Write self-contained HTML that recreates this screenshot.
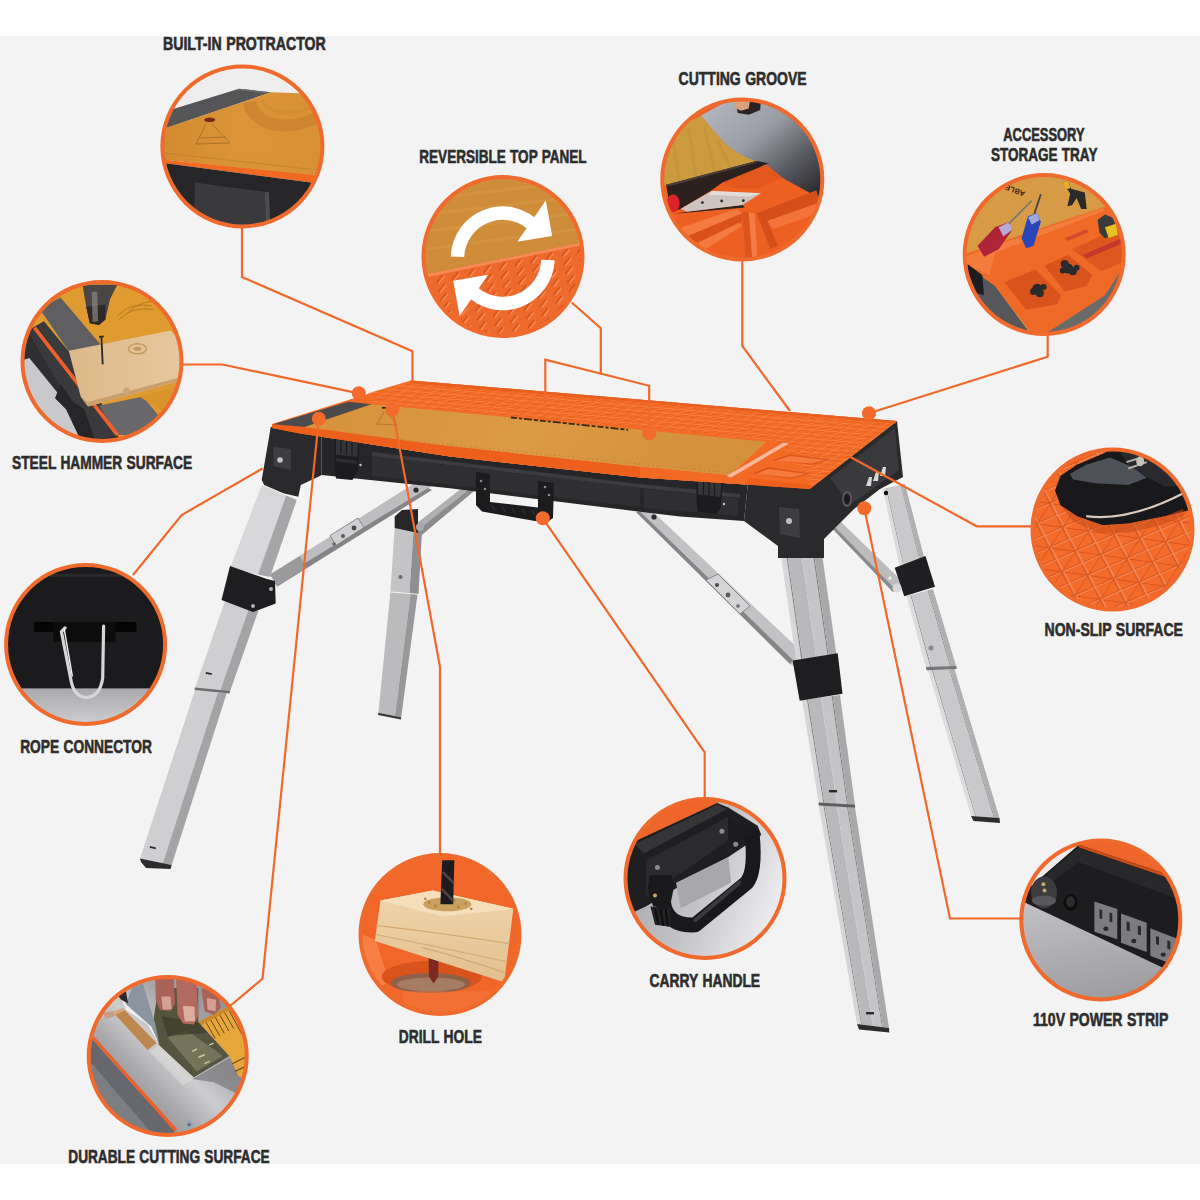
<!DOCTYPE html>
<html lang="en">
<head>
<meta charset="utf-8">
<title>Workbench features</title>
<style>
html,body{margin:0;padding:0;background:#fff;}
body{width:1200px;height:1200px;overflow:hidden;}
svg{display:block;}
.lbl{font-family:"Liberation Sans",sans-serif;font-weight:700;font-size:18.4px;fill:#2d2d2d;stroke:#2d2d2d;stroke-width:0.6;word-spacing:0.04em;}
.ln{fill:none;stroke:#f0692b;stroke-width:2.2;stroke-linejoin:miter;}
.dot{fill:#f26a2c;}
.ring{fill:none;stroke:#ef6a2c;stroke-width:4;}
</style>
</head>
<body>
<svg width="1200" height="1200" viewBox="0 0 1200 1200">
<defs>

<linearGradient id="alu" x1="0" y1="0" x2="1" y2="0">
<stop offset="0" stop-color="#d9d9db"/><stop offset="0.12" stop-color="#d2d2d4"/><stop offset="0.14" stop-color="#7e7e80"/><stop offset="0.17" stop-color="#b6b6b8"/><stop offset="0.75" stop-color="#c6c6c8"/><stop offset="0.8" stop-color="#808082"/><stop offset="0.84" stop-color="#adadaf"/><stop offset="1" stop-color="#a4a4a6"/>
</linearGradient>
<linearGradient id="alu2" x1="0" y1="0" x2="1" y2="0">
<stop offset="0" stop-color="#c6c6c8"/><stop offset="0.7" stop-color="#bcbcbe"/><stop offset="0.72" stop-color="#98989a"/><stop offset="1" stop-color="#8e8e90"/>
</linearGradient>
<linearGradient id="woodg" x1="0" y1="0" x2="1" y2="0.1">
<stop offset="0" stop-color="#d6923a"/><stop offset="0.5" stop-color="#db9a44"/><stop offset="1" stop-color="#d4903a"/>
</linearGradient>

<clipPath id="k1"><circle cx="242.4" cy="146.4" r="80"/></clipPath>
<linearGradient id="c1wood" x1="0" y1="0" x2="1" y2="0"><stop offset="0" stop-color="#d38a30"/><stop offset="0.5" stop-color="#db9538"/><stop offset="1" stop-color="#d89034"/></linearGradient>

<clipPath id="k2"><circle cx="503" cy="256.5" r="79.5"/></clipPath>
<pattern id="tread" width="16" height="9" patternUnits="userSpaceOnUse" patternTransform="rotate(-12)">
<rect width="16" height="9" fill="#ee6a2c"/>
<path d="M1 7 L7 2" stroke="#d9521a" stroke-width="2.2" stroke-linecap="round"/>
<path d="M2.5 8 L8.5 3" stroke="#f9905c" stroke-width="1.6" stroke-linecap="round"/>
</pattern>

<clipPath id="k3"><circle cx="742.3" cy="179.4" r="80"/></clipPath>
<linearGradient id="c3sheet" x1="0.1" y1="0" x2="1" y2="0.9"><stop offset="0" stop-color="#b4b8c2"/><stop offset="0.4" stop-color="#9a9da6"/><stop offset="0.7" stop-color="#5a5b62"/><stop offset="1" stop-color="#252528"/></linearGradient>
<linearGradient id="c3or" x1="0" y1="0" x2="0" y2="1"><stop offset="0" stop-color="#e2571d"/><stop offset="1" stop-color="#f4702f"/></linearGradient>

<clipPath id="k4"><circle cx="1044.2" cy="254.5" r="79.5"/></clipPath>

<clipPath id="k5"><circle cx="102" cy="361.4" r="79.5"/></clipPath>
<clipPath id="k6"><circle cx="85.6" cy="644.4" r="79.5"/></clipPath>
<clipPath id="k7"><circle cx="1112.5" cy="529.5" r="80"/></clipPath>
<linearGradient id="c6fl" x1="0" y1="0" x2="0" y2="1"><stop offset="0" stop-color="#a9a9ab"/><stop offset="1" stop-color="#dcdcde"/></linearGradient>
<linearGradient id="lumber" x1="0" y1="0" x2="1" y2="0"><stop offset="0" stop-color="#dcb98a"/><stop offset="1" stop-color="#e6c79c"/></linearGradient>
<pattern id="tri" width="26" height="22" patternUnits="userSpaceOnUse" patternTransform="rotate(8) skewX(-25)">
<rect width="26" height="22" fill="#f26b2b"/>
<path d="M0 0 L26 22 M26 0 L0 22 M0 0 L26 0 M0 0 L0 22" stroke="#d9531c" stroke-width="1.6" fill="none"/>
<path d="M1.5 0 L27.5 22 M27.5 0 L1.5 22" stroke="#f88d5a" stroke-width="1.2" fill="none"/>
</pattern>

<clipPath id="k8"><circle cx="1100.8" cy="920" r="79.5"/></clipPath>
<clipPath id="k9"><circle cx="705" cy="878.5" r="79.5"/></clipPath>
<clipPath id="k10"><circle cx="440" cy="934.5" r="79.5"/></clipPath>
<clipPath id="k11"><circle cx="167.7" cy="1056" r="79"/></clipPath>
<linearGradient id="c8fl" x1="0" y1="0" x2="0.3" y2="1"><stop offset="0" stop-color="#c4c4c8"/><stop offset="1" stop-color="#98989c"/></linearGradient>
<linearGradient id="c9bg" x1="0" y1="0" x2="1" y2="0.4"><stop offset="0" stop-color="#9e9ea2"/><stop offset="0.6" stop-color="#c4c4c8"/><stop offset="1" stop-color="#eaeaec"/></linearGradient>
<linearGradient id="c10w" x1="0" y1="0" x2="0" y2="1"><stop offset="0" stop-color="#f0d6ac"/><stop offset="1" stop-color="#e2bf8e"/></linearGradient>
<linearGradient id="c11st" x1="0.1" y1="0.9" x2="0.9" y2="0.1"><stop offset="0" stop-color="#8a8a8c"/><stop offset="0.3" stop-color="#a4a4a6"/><stop offset="0.5" stop-color="#cdcdcf"/><stop offset="0.7" stop-color="#a8a8aa"/><stop offset="1" stop-color="#8c8c8e"/></linearGradient>

<pattern id="grip" width="13" height="7" patternUnits="userSpaceOnUse" patternTransform="matrix(1 0.085 -1.1 0.55 0 0)">
<rect width="13" height="7" fill="#f26a24"/>
<path d="M0 0.6 H13 M0.6 0 V7" stroke="#f88f58" stroke-width="1.1"/>
<path d="M1 6.5 L12 1" stroke="#e2591c" stroke-width="1"/>
</pattern>
<clipPath id="ktop"><polygon points="272,424 350,399.5 411,380.5 897,421 810,489 746,484.5 640,477.5 450,456.5 333,438.5 300,433.5 272,428"/></clipPath>
<!--DEFS-->
</defs>
<rect x="0" y="0" width="1200" height="1200" fill="#ffffff"/>
<rect x="0" y="36" width="1200" height="1128" fill="#f3f3f3"/>

<g id="bench">
<!-- back-left leg -->
<polygon points="394.7,527 413.5,531 409.5,593 390.4,591.4" fill="#c4c4c6"/>
<polygon points="413.5,531 421.8,535 418.5,594 409.5,593" fill="#8f8f91"/>
<polygon points="390.4,592.5 410.5,594 395,716 378.4,712.8" fill="#bbbbbd"/>
<polygon points="410.5,594 417.5,594.7 401.2,717.2 395,716" fill="#98989a"/>
<polygon points="378.4,712.8 401.2,717.2 400.8,719.5 378,715" fill="#3a3a3c"/>
<circle cx="400.5" cy="577" r="2" fill="#6c6c6e"/>
<!-- left braces -->
<polygon points="412,527 464,486.5 474,491 418,538" fill="#b0b0b2"/>
<polygon points="414,533 470,489 474,491 418,538" fill="#8c8c8e"/>
<polygon points="270,574.5 413.3,484 432,486 277.3,586" fill="#bdbdbf"/>
<polygon points="274,582 428,488 432,490 277.3,586.5" fill="#858587"/>
<polygon points="270,574.5 300,556 306,568 277.3,586" fill="#9a9a9c"/>
<polygon points="330,535.5 358,518 364,527.5 336,545.5" fill="#cfcfd1" stroke="#77777a" stroke-width="0.8"/>
<circle cx="343" cy="536" r="2" fill="#5a5a5c"/><circle cx="354" cy="528" r="2.4" fill="#4a4a4c"/><circle cx="334" cy="544" r="1.8" fill="#6a6a6c"/>
<circle cx="416" cy="490" r="2.6" fill="#2a2a2c"/>
<polygon points="394.7,516.6 402,510 418,509 418,533 394.7,528" fill="#262628"/>
<circle cx="420" cy="527" r="4" fill="#a8a8aa"/>
<!-- back-right leg -->
<polygon points="882.8,489.0 886.1,488.2 903.1,564.6 899.4,566.0" fill="#dcdcde"/>
<polygon points="886.1,488.2 886.8,488.1 903.8,564.4 903.1,564.6" fill="#8a8a8c"/>
<polygon points="886.8,488.1 900.6,485.0 919.1,558.8 903.8,564.4" fill="#c9c9cb"/>
<polygon points="900.6,485.0 901.2,484.9 919.8,558.5 919.1,558.8" fill="#8a8a8c"/>
<polygon points="901.2,484.9 905.0,484.0 924.0,557.0 919.8,558.5" fill="#b0b0b2"/>
<polygon points="906.5,596.0 910.5,595.0 930.6,667.9 926.0,668.0" fill="#dcdcde"/>
<polygon points="910.5,595.0 911.3,594.7 931.5,667.8 930.6,667.9" fill="#8a8a8c"/>
<polygon points="911.3,594.7 927.7,590.4 950.3,667.2 931.5,667.8" fill="#c9c9cb"/>
<polygon points="927.7,590.4 928.5,590.2 951.2,667.2 950.3,667.2" fill="#8a8a8c"/>
<polygon points="928.5,590.2 933.0,589.0 956.4,667.0 951.2,667.2" fill="#b0b0b2"/>
<polygon points="928.0,670.0 932.0,669.9 975.3,816.3 971.0,816.0" fill="#dcdcde"/>
<polygon points="932.0,669.9 932.8,669.8 976.1,816.4 975.3,816.3" fill="#8a8a8c"/>
<polygon points="932.8,669.8 949.2,669.2 993.8,817.6 976.1,816.4" fill="#c9c9cb"/>
<polygon points="949.2,669.2 950.0,669.2 994.7,817.7 993.8,817.6" fill="#8a8a8c"/>
<polygon points="950.0,669.2 954.5,669.0 999.5,818.0 994.7,817.7" fill="#b0b0b2"/>
<polygon points="971,816 999.5,818 1000,823 973.5,821" fill="#2c2c2e"/>
<polygon points="926,667 956.4,666 956.8,669 926.4,670.3" fill="#77777a"/>
<circle cx="931" cy="648" r="2.5" fill="#8a8a8c"/>
<!-- right back brace -->
<polygon points="826,522 838,519 903,582 893,592" fill="#bcbcbe"/>
<polygon points="826,522 829,521 895,589 893,592" fill="#8a8a8c"/>
<circle cx="890" cy="578" r="1.6" fill="#f4f4f4"/>
<polygon points="894.7,567.8 925.5,556 935,586.8 904.2,596.3" fill="#1f1f21"/>
<circle cx="897" cy="588" r="4.5" fill="#d8d8da"/>
<!-- front-right brace -->
<polygon points="636,512 650,509 802,652 798,668 790,664" fill="#c2c2c4"/>
<polygon points="636,512 640,511.5 793,660 790,664" fill="#858587"/>
<polygon points="706,580 718,574 750,606 740,614" fill="#d4d4d6" stroke="#77777a" stroke-width="0.8"/>
<circle cx="717" cy="585" r="2" fill="#4a4a4c"/><circle cx="728" cy="595" r="2.4" fill="#5a5a5c"/><circle cx="738" cy="606" r="1.8" fill="#6a6a6c"/>
<circle cx="654" cy="517" r="2.6" fill="#2a2a2c"/>
</g>
<g id="bench-front">
<!-- front-left leg -->
<polygon points="261.7,485.0 286.2,495.5 258.0,574.4 230.0,568.3" fill="#d8d8da"/>
<polygon points="286.2,495.5 296.7,500.0 270.0,577.0 258.0,574.4" fill="#a6a6a8"/>
<polygon points="225.0,601.0 249.0,608.2 220.2,690.6 195.0,688.3" fill="#cfcfd1"/>
<polygon points="249.0,608.2 258.3,611.0 230.0,691.5 220.2,690.6" fill="#a4a4a6"/>
<polygon points="195.0,690.0 217.8,692.4 162.8,863.2 140.0,858.5" fill="#cfcfd1"/>
<polygon points="217.8,692.4 226.7,693.3 171.7,865.0 162.8,863.2" fill="#a4a4a6"/>
<polygon points="140,858.5 171.7,865 170.5,869 146,868 141,862" fill="#2c2c2e"/>
<polygon points="195,687.5 230,691 229.5,693.5 194.5,690" fill="#6e6e71"/>
<polygon points="206,672 212,673.3 211.6,675 205.6,673.7" fill="#2a2a2c"/>
<polygon points="150,846 156,847.5 155.6,849.2 149.6,847.7" fill="#2a2a2c"/>
<polygon points="230,566 267,579 275,581 275.7,603.5 253,612 221.5,600" fill="#1e1e20"/>
<circle cx="271" cy="589" r="2" fill="#b0b0b2"/><circle cx="253" cy="606" r="2" fill="#b0b0b2"/>
<!-- front-right leg -->
<polygon points="780.7,554.0 786.1,554.0 801.3,659.4 796.0,660.0" fill="#d6d6d8"/>
<polygon points="786.1,554.0 787.3,554.0 802.5,659.2 801.3,659.4" fill="#858587"/>
<polygon points="787.3,554.0 801.4,554.0 816.2,657.5 802.5,659.2" fill="#b9b9bb"/>
<polygon points="801.4,554.0 812.9,554.0 827.6,656.1 816.2,657.5" fill="#c5c5c7"/>
<polygon points="812.9,554.0 814.2,554.0 828.8,656.0 827.6,656.1" fill="#828284"/>
<polygon points="814.2,554.0 822.0,554.0 836.5,655.0 828.8,656.0" fill="#a9a9ab"/>
<polygon points="802.0,700.0 806.9,699.4 823.4,803.3 818.7,803.0" fill="#d6d6d8"/>
<polygon points="806.9,699.4 808.1,699.2 824.5,803.4 823.4,803.3" fill="#858587"/>
<polygon points="808.1,699.2 821.0,697.5 836.9,804.1 824.5,803.4" fill="#b9b9bb"/>
<polygon points="821.0,697.5 831.6,696.1 847.0,804.8 836.9,804.1" fill="#c5c5c7"/>
<polygon points="831.6,696.1 832.8,696.0 848.1,804.9 847.0,804.8" fill="#828284"/>
<polygon points="832.8,696.0 840.0,695.0 855.0,805.3 848.1,804.9" fill="#a9a9ab"/>
<polygon points="818.7,805.3 823.4,805.6 861.2,1024.5 857.0,1024.0" fill="#d6d6d8"/>
<polygon points="823.4,805.6 824.5,805.7 862.1,1024.6 861.2,1024.5" fill="#858587"/>
<polygon points="824.5,805.7 836.9,806.5 873.0,1026.0 862.1,1024.6" fill="#b9b9bb"/>
<polygon points="836.9,806.5 847.0,807.1 882.0,1027.1 873.0,1026.0" fill="#c5c5c7"/>
<polygon points="847.0,807.1 848.1,807.2 882.9,1027.2 882.0,1027.1" fill="#828284"/>
<polygon points="848.1,807.2 855.0,807.6 889.0,1028.0 882.9,1027.2" fill="#a9a9ab"/>
<polygon points="857,1024 889,1028 889.3,1032.5 859,1029.5" fill="#2c2c2e"/>
<polygon points="818.5,802.5 855,804.8 855.2,807.8 818.8,805.6" fill="#5e5e60"/>
<rect x="829" y="790" width="8" height="2.4" fill="#2a2a2c"/>
<rect x="866" y="1012" width="8" height="2.4" fill="#2a2a2c"/>
<polygon points="792.6,660.4 837.7,653.3 842.5,693.7 799.7,700.8" fill="#1e1e20"/>
<!-- body: right side face -->
<polygon points="810,488 897,421 903,477 880,489 854,509 824,539 824,558 778,558 778,546 744,521 748,483" fill="#2a2a2c"/>
<polygon points="830,478 895,428 899,470 850,505" fill="#3a3a3c"/>
<ellipse cx="847" cy="499" rx="5" ry="8" fill="#555557"/>
<ellipse cx="847" cy="499" rx="3" ry="5.5" fill="#1a1a1c"/>
<polygon points="779,507 799,509 800,538 780,534" fill="#3d3d3f"/>
<circle cx="789" cy="521" r="3" fill="#bdbdbf"/>
<!-- body: front face -->
<polygon points="272,427 300,433.5 333,438.5 450,456.5 640,477.5 746,484.5 748,483 744,521 680,516.5 640,511.7 450,488.3 321.7,475 321.7,436" fill="#262628"/>
<polygon points="372,452 640,484 740,494 740,498 640,488 372,456" fill="#3c3c3e"/>
<polygon points="372,456 640,488 640,507 452,485 372,476" fill="#2f2f31"/>
<polygon points="644,489 738,498 738,516 644,508" fill="#2f2f31"/>
<!-- left corner block -->
<polygon points="270.8,426.7 321.7,435 321.7,475 318.3,476.7 300.8,485 298.3,496.7 283.3,493.3 264.2,485 261.7,480" fill="#2a2a2c"/>
<polygon points="273.3,446.7 290.8,449 290.8,470 273.3,466" fill="#3d3d3f"/>
<circle cx="280" cy="460" r="2.8" fill="#c4c4c6"/>
<!-- latches -->
<polygon points="334.5,436.5 359.3,439 357.8,470 352.5,480 336,478.5 334.5,466" fill="#1c1c1e"/>
<polygon points="336,439 358,441.5 357,457 336,454.5" fill="#353537"/>
<path d="M341 440 L341 454 M346.5 440.6 L346.5 454.8 M352 441.2 L352 455.6" stroke="#1a1a1c" stroke-width="1.2"/>
<polygon points="336,458 357,460.5 356.5,464 336,461.5" fill="#2c2c2e"/>
<circle cx="360.5" cy="465" r="1.2" fill="#c8c8ca"/>
<polygon points="696.5,477.5 723,480.5 720.5,509 716,514 698,512 696.5,502" fill="#1c1c1e"/>
<polygon points="698,480 721.5,482.8 720,497 698,494.5" fill="#353537"/>
<path d="M703.5 481 L703.5 495 M709 481.8 L709 495.8 M714.5 482.4 L714.5 496.4" stroke="#1a1a1c" stroke-width="1.2"/>
<circle cx="724" cy="504" r="1.2" fill="#c8c8ca"/>
<!-- handle -->
<path d="M476 472 L490 474 L490 502 L538 507.5 L538 481 L554 483 L553 518 L548 521.5 L535 521 L482 511.5 L476 505 Z" fill="#1c1c1e"/>
<path d="M492 505.5 l3 5 M502 506.8 l3 5 M512 508 l3 5 M522 509.2 l3 5 M532 510.4 l3 5" stroke="#3a3a3c" stroke-width="1"/>
<circle cx="481" cy="481" r="1.3" fill="#8a8a8c"/><circle cx="485" cy="489" r="1.3" fill="#8a8a8c"/><circle cx="545" cy="487" r="1.3" fill="#8a8a8c"/><circle cx="549" cy="495" r="1.3" fill="#8a8a8c"/>
<!-- top orange -->
<polygon points="272,424 350,399.5 411,380.5 897,421 810,489 746,484.5 640,477.5 450,456.5 333,438.5 300,433.5 272,428" fill="#f26a24"/>
<polygon points="368,393 411,380.5 897,421 812,487 790,452 770,440 372,403" fill="url(#grip)" opacity="0.6"/>
<polygon points="411,380.5 897,421 895,423.5 409,383" fill="#e85f1e"/>
<polygon points="272,424 305,427.5 440,445 640,466.7 730,475.5 748,478 810,485 810,489 746,484.5 640,477.5 450,456.5 333,438.5 300,433.5 272,428" fill="#ef5f1c"/>
<!-- steel plate -->
<polygon points="273.3,424.2 348.3,401.7 371.7,404.2 305,427" fill="#4b4b4d"/>
<!-- wood -->
<polygon points="371.7,404.2 766.7,441.7 730,475.5 640,466.7 440,445 305,427" fill="url(#woodg)"/>
<!-- ruler strip + tray recess -->
<polygon points="730,475.5 766.7,441.7 790,444 748,479 746,484.5 640,477.5 640,466.7" fill="#f26a24"/>
<polygon points="783,442.8 789,443.6 731,477.4 726.5,476" fill="#f9b7a0"/>
<polygon points="772,460.4 789.5,454 830.7,459.3 813.3,464.8" fill="#dd561b"/>
<polygon points="775,461 790,456 826,460 812,463.6" fill="#f57a3c"/>
<polygon points="752.7,473.4 767.8,467 811.2,473.4 791.7,478.8" fill="#dd561b"/>
<polygon points="756,474 768.5,469 806,474 791,477.4" fill="#f57a3c"/>
<path d="M511 417.5 L628 429.8" stroke="#3a2814" stroke-width="1.8" stroke-dasharray="6 2 3 2 8 2 4 2"/>
<path d="M330 432.5 L640 464 L728 472.5" stroke="#b87a2e" stroke-width="0.9" stroke-dasharray="1.2 3.5" fill="none"/>
<path d="M384 412 l-6 11 M386 412 l9 10 M376 424 l22 1" stroke="#9a6a28" stroke-width="0.6" fill="none"/>
<rect x="382" y="407" width="4" height="1.6" fill="#2a1a10"/>
<!-- side logo -->
<g fill="#d8d8da"><polygon points="866,486 869,477 872,477 871,486"/><polygon points="873,481 876,472 879,472 878,481"/><polygon points="880,476 883,467 886,467 885,476"/></g>
<circle cx="886" cy="493" r="2.2" fill="#0e0e0f"/>
</g>
<!--BENCH-->

<g id="lines">
<path class="ln" d="M242 226 L242 277 L412.5 351.3 L412.5 384"/>
<path class="ln" d="M182 364.5 L222.5 364.5 L358.8 393.3"/>
<path class="ln" d="M318.8 418.8 L262.5 978.8 L230 1006"/>
<path class="ln" d="M392.5 409.5 L440 667 L440 856"/>
<path class="ln" d="M262.5 468.5 L181.7 515 L133 575"/>
<path class="ln" d="M571.7 302.5 L600.8 328.3 L600.8 374.2"/>
<path class="ln" d="M545.3 403 L545.3 359.7 L649.2 385.8 L649.2 433.3"/>
<path class="ln" d="M742.3 258 L742.3 346 L790 411"/>
<path class="ln" d="M1047.7 333 L1047.7 356.7 L869 413.3"/>
<path class="ln" d="M1032 526.3 L976.7 526.3 L850 456.7"/>
<path class="ln" d="M864.3 508.3 L950 918.5 L1020 918.5"/>
<path class="ln" d="M542.8 518.3 L704.7 752.3 L704.7 799"/>
<circle class="dot" cx="358.8" cy="393.3" r="7"/>
<circle class="dot" cx="318.8" cy="418.8" r="7"/>
<circle class="dot" cx="392.5" cy="409.5" r="7"/>
<circle class="dot" cx="649.2" cy="433.3" r="7"/>
<circle class="dot" cx="869" cy="413.3" r="7"/>
<circle class="dot" cx="864.3" cy="508.3" r="7"/>
<circle class="dot" cx="542.8" cy="518.3" r="7"/>
</g>
<!--LINES-->

<g id="circles">
<!--C1 protractor-->
<g id="c1"><g clip-path="url(#k1)">
<rect x="160" y="64" width="166" height="166" fill="#eeeeee"/>
<polygon points="160,113 239,88.7 271,92.3 165,128.5 160,130" fill="#555557"/>
<polygon points="239,88.7 271,92.3 268,93.6 238,90" fill="#6b6b6d"/>
<polygon points="271,92.3 299.5,93.3 326,97.5 326,178 169.3,160.2 160,159.5 160,130" fill="url(#c1wood)"/>
<path d="M243 103 Q246 122 270 130 Q292 135 318 124 L326 120 L326 107 Q300 122 278 119 Q258 115 256 101 Z" fill="#c9822f" opacity="0.75"/>
<path d="M262 100 Q268 112 286 113 Q305 112 318 103" fill="none" stroke="#cf8a33" stroke-width="3" opacity="0.6"/>
<ellipse cx="209.7" cy="119.8" rx="5.5" ry="2.3" fill="#7a2a18"/>
<path d="M206 124 L196 144 M212 124 L230 143 M196 144 L230 143 M200 138 L226 137" stroke="#8a5a22" stroke-width="0.7" fill="none" opacity="0.8"/>
<path d="M165 153 L326 171" stroke="#b87a2c" stroke-width="0.8" opacity="0.7"/>
<polygon points="160,159 169.3,160.2 310.5,174.8 326,176.5 326,184.5 308.7,182.2 169.3,163.8 160,163" fill="#f26a21"/>
<polygon points="160,163 169.3,163.8 308.7,182.2 326,184.5 326,232 160,232" fill="#262628"/>
<polygon points="195,182.5 264.7,191.8 266.5,232 193.2,232" fill="#3a3a3c"/>
<polygon points="264.7,191.8 269,192.3 270.5,232 266.5,232" fill="#4c4c4e"/>
<polygon points="160,165 168,166 172,232 160,232" fill="#161618"/>
</g><circle class="ring" cx="242.4" cy="146.4" r="80"/></g>
<!--C2 reversible-->
<g id="c2"><g clip-path="url(#k2)">
<rect x="420" y="174" width="166" height="166" fill="#cf8d3a"/>
<path d="M420 200 L586 180 M420 215 L586 196 M420 232 L586 212 M420 250 L586 228" stroke="#d89a48" stroke-width="3" opacity="0.5"/>
<polygon points="420,275.5 586,241.5 586,340 420,340" fill="url(#tread)"/>
<polygon points="420,275.5 586,241.5 586,244.5 420,278.5" fill="#f58a55"/>
<path d="M457.5 256.7 A45.2 45.2 0 0 1 536.3 228.1" fill="none" stroke="#fff" stroke-width="13.5"/>
<path d="M547.9 259.9 A45.2 45.2 0 0 1 469.1 288.5" fill="none" stroke="#fff" stroke-width="13.5"/>
<polygon points="545.8,200.6 552.2,235.9 517.3,241.8" fill="#fff"/>
<polygon points="459.6,316.0 453.2,280.7 488.1,274.8" fill="#fff"/>
</g><circle class="ring" cx="503" cy="256.5" r="79.5"/></g>
<!--C3 groove-->
<g id="c3"><g clip-path="url(#k3)">
<rect x="660" y="97" width="166" height="166" fill="#ee6022"/>
<path d="M700.9 115.4 L736.3 96.2 L827.3 96.2 L827.3 201.0 L816.5 196.4 L782.6 177.9 L767.2 165.5 L756.4 161.7 Q736.3 154.8 724.0 142.4 Q711.7 128.5 700.9 115.4 Z" fill="url(#c3sheet)"/>
<path d="M659.3 188.7 L659.3 136.3 L700.9 115.4 Q711.7 128.5 724.0 142.4 Q736.3 154.8 756.4 161.2 L666.2 185.3 Z" fill="#cc9b40"/>
<path d="M673.1 140.9 L679.3 181.0 M688.5 128.5 L696.3 176.3 M704.0 125.5 L714.8 171.7 M717.8 140.9 L730.2 167.1" stroke="#c08e36" stroke-width="2.5" fill="none" opacity="0.6"/>
<polygon points="734.8,99.3 761.0,99.3 760.2,110.0 748.7,114.7 737.9,113.1" fill="#2a2224"/>
<polygon points="734.0,99.3 750.2,99.3 748.7,108.5 741.0,110.8 734.8,107.7" fill="#d9a27e"/>
<polygon points="677.8,228.8 736.3,208.7 742.5,213.3 687.0,236.5" fill="#f47a40"/>
<polygon points="694.7,244.2 736.3,221.1 742.5,225.7 704.0,250.3" fill="#f47a40"/>
<polygon points="687.0,236.5 742.5,213.3 742.5,221.1 694.7,244.2" fill="#d9501a"/>
<polygon points="742.5,211.8 754.8,213.3 757.9,264.2 745.6,264.2" fill="#dc541c"/>
<polygon points="748.7,212.6 754.8,213.3 757.9,264.2 752.5,264.2" fill="#f47c44"/>
<polygon points="756.4,213.3 816.5,190.2 819.6,202.6 767.2,221.1 778.0,245.7 770.3,248.8" fill="#d64e19"/>
<polygon points="767.2,221.1 819.6,202.6 819.6,213.3 773.3,228.8" fill="#f37338"/>
<polygon points="722.5,182.5 757.9,167.9 767.2,165.5 782.6,177.9 757.9,188.7 736.3,188.7" fill="#e4581d"/>
<polygon points="666.2,184.8 756.4,160.9 768.7,163.2 757.9,167.9 722.5,182.5 711.7,190.2 680.8,208.7 673.1,211.8 668.5,197.9" fill="#2c211f"/>
<polygon points="666.2,184.8 756.4,160.9 757.9,162.2 667.0,186.8" fill="#4a3f3c"/>
<polygon points="687.0,211.8 742.5,204.9 744.8,207.5 674.7,213.7" fill="#2c211f"/>
<polygon points="680.8,208.7 711.7,191.0 761.0,193.3 742.5,204.9 687.0,211.8" fill="#cfc3c0"/>
<polygon points="711.7,191.0 761.0,193.3 748.7,196.4 708.6,194.8" fill="#e4dcda"/>
<ellipse cx="673.1" cy="203.3" rx="6.5" ry="9" fill="#d8242a"/>
<circle cx="702.4" cy="202.6" r="1.4" fill="#2a2a2a"/><circle cx="721.7" cy="201.0" r="1.4" fill="#2a2a2a"/><circle cx="743.3" cy="200.7" r="1.4" fill="#2a2a2a"/>
</g><circle class="ring" cx="742.3" cy="179.4" r="80"/></g>
<!--C4 tray-->
<g id="c4"><g clip-path="url(#k4)">
<rect x="962" y="172" width="166" height="166" fill="#d79a45"/>
<polygon points="962.0,254.8 1103.2,207.2 1127.0,201.7 1127.0,275.0 1116.0,293.3 1105.0,333.7 1031.7,333.7 995.0,286.0 965.7,264.0" fill="#ee6a26"/>
<polygon points="963.8,256.7 1103.2,208.1 1104.1,210.8 995.0,253.0 989.5,275.0 965.7,264.9" fill="#f47c3c"/>
<polygon points="1004.2,282.3 1035.3,269.5 1061.0,295.2 1057.3,304.3 1026.2,309.8" fill="#d9541c"/>
<polygon points="1044.5,265.8 1068.3,254.8 1092.2,275.0 1086.7,286.0 1064.7,291.5" fill="#d9541c"/>
<polygon points="1072.0,249.3 1119.7,227.3 1127.0,234.7 1127.0,260.3 1101.3,271.3" fill="#dd581e"/>
<polygon points="1064.7,238.3 1086.7,229.2 1088.5,231.9 1068.3,241.1" fill="#d44a2a"/>
<polygon points="1083.0,254.8 1121.5,238.3 1123.3,242.9 1086.7,258.5" fill="#c8372c"/>
<polygon points="962.0,262.2 995.0,286.0 1031.7,335.5 962.0,335.5" fill="#56575a"/>
<polygon points="967.5,264.0 982.2,275.0 984.0,295.2 976.7,293.3 967.5,271.3" fill="#1d1d1f"/>
<polygon points="1042.7,335.5 1105.0,295.2 1120.6,271.3 1128.8,271.3 1116.0,295.2 1105.0,335.5" fill="#6a6a68"/>
<polygon points="1105.0,335.5 1116.0,295.2 1128.8,271.3 1141.7,271.3 1141.7,335.5" fill="#ededed"/>
<polygon points="977.6,245.7 995.0,227.3 1009.7,221.8 1011.5,231.0 998.7,249.3 984.0,256.7" fill="#b0243a"/>
<polygon points="998.7,227.3 1009.7,221.8 1011.9,230.1 1003.3,236.5" fill="#b9a8d8"/>
<path d="M1008.8 223.7 L1031.7 200.8" stroke="#777" stroke-width="1.6"/>
<polygon points="1021.6,238.3 1028.0,216.3 1037.2,212.7 1040.8,221.8 1033.5,245.7 1026.2,248.4" fill="#2a45b8"/>
<polygon points="1028.0,217.3 1037.2,212.7 1039.9,220.0 1031.7,224.6" fill="#9ea8e0"/>
<path d="M1034.4 213.6 L1040.8 194.3" stroke="#444" stroke-width="1.8"/>
<polygon points="1062.8,182.4 1068.3,180.6 1071.1,188.8 1084.8,192.5 1086.7,209.0 1081.2,209.0 1076.6,198.0 1072.0,205.3 1067.4,206.3 1070.2,193.4" fill="#2a2a2a"/>
<polygon points="1062.8,182.4 1068.3,180.6 1070.5,187.9 1066.1,189.2" fill="#e0b02a"/>
<polygon points="1097.7,220.0 1105.0,214.5 1114.2,218.2 1116.9,234.7 1105.0,238.3 1099.5,232.8" fill="#3a3a3c"/>
<polygon points="1105.0,227.3 1116.0,223.7 1117.8,234.7 1108.7,238.3" fill="#e8c020"/>
<g fill="#2a2a2a"><circle cx="1037.2" cy="288.8" r="5"/><circle cx="1039.9" cy="293.3" r="4"/><circle cx="1033.5" cy="291.5" r="3.5"/><circle cx="1043.6" cy="286.9" r="3"/><circle cx="1068.3" cy="268.6" r="5"/><circle cx="1064.7" cy="264.0" r="4"/><circle cx="1072.9" cy="271.3" r="4"/><circle cx="1076.6" cy="267.7" r="3"/><circle cx="1062.8" cy="270.4" r="3"/></g>
<text x="1015" y="193" text-anchor="middle" font-family="'Liberation Sans',sans-serif" font-weight="700" font-size="7.5" fill="#3a2614" transform="rotate(202 1015 190.5)">ABLE</text>
</g><circle class="ring" cx="1044.2" cy="254.5" r="79.5"/></g>
<!--C5 hammer-->
<g id="c5"><g clip-path="url(#k5)">
<rect x="20" y="279" width="166" height="166" fill="#df9a30"/>
<polygon points="18.3,372.7 18.3,453.3 128.3,453.3 117.3,435.0 33.0,328.7 18.3,343.3" fill="#2f2f31"/>
<polygon points="18.3,361.7 29.3,358.0 77.0,416.7 84.3,453.3 18.3,453.3" fill="#c9c9cb"/>
<polygon points="27.5,330.5 44.0,321.3 86.2,372.7 117.3,435.0 95.3,440.5 69.7,398.3 60.5,387.3" fill="#3a3a3c"/>
<polygon points="60.5,383.7 73.3,402.0 84.3,409.3 95.3,440.5 80.7,440.5 66.0,409.3 55.0,398.3" fill="#262628"/>
<polygon points="39.4,308.5 60.5,297.5 102.7,347.0 69.7,352.5" fill="#5f5f61"/>
<polygon points="99.0,405.7 143.0,396.5 174.2,435.0 117.3,435.0" fill="#68686a"/>
<polygon points="33.0,328.7 35.8,326.5 119.2,434.1 115.9,435.9" fill="#f0602a"/>
<polygon points="139.3,396.5 176.0,387.3 183.3,398.3 183.3,409.3 165.0,413.0" fill="#d8952c"/>
<polygon points="68.8,350.7 170.5,330.5 183.3,343.3 183.3,380.0 88.0,406.6 80.7,396.5" fill="url(#lumber)"/>
<polygon points="80.7,396.5 88.0,406.6 183.3,380.0 183.3,376.3 88.0,402.0" fill="#c9a06c"/>
<polygon points="82.5,284.7 117.3,284.7 110.0,299.3 105.4,319.5 99.0,325.0 89.8,323.2 86.2,306.7" fill="#4a4644"/>
<polygon points="86.2,306.7 105.4,304.8 105.4,319.5 99.0,325.0 89.8,323.2" fill="#2e2a28"/>
<polygon points="91.7,292.0 97.2,291.6 98.1,321.3 92.6,321.7" fill="#8a8684" opacity="0.7"/>
<path d="M101.4 336.9 L102.7 364.4" stroke="#2a2a2a" stroke-width="1.8"/>
<path d="M99.0 336.9 L103.8 336.4" stroke="#2a2a2a" stroke-width="1.6"/>
<ellipse cx="137.5" cy="348.8" rx="9" ry="5" fill="none" stroke="#c29a62" stroke-width="1.4"/>
<ellipse cx="137.5" cy="348.8" rx="4" ry="2" fill="#c29a62"/>
<circle cx="126.5" cy="391.0" r="3.5" fill="#cfa672"/>
<path d="M117.3 315.8 q14 -14 34 -10 M119.2 319.5 q14 -14 34 -10 M128.3 312.2 q14 -14 34 -10" stroke="#b87820" stroke-width="1" fill="none"/>
</g><circle class="ring" cx="102" cy="361.4" r="79.5"/></g>
<!--C6 rope-->
<g id="c6"><g clip-path="url(#k6)">
<rect x="4" y="563" width="166" height="166" fill="#1b1b1d"/>
<rect x="4" y="688.4" width="166" height="50" fill="url(#c6fl)"/>
<rect x="4" y="573.8" width="166" height="3" fill="#2a2a2c"/>
<rect x="33.9" y="621.9" width="102.7" height="10.1" rx="2" fill="#050506"/>
<rect x="53.2" y="621.9" width="62.3" height="20.2" fill="#0c0c0d"/>
<path d="M65.1 627.9 L61.4 631.6 L70.6 678.3 Q73.3 696.7 86.2 697.6 Q99.9 696.7 102.7 678.3 L103.6 626.1" fill="none" stroke="#d6d6d8" stroke-width="3.2" stroke-linecap="round" stroke-linejoin="round"/>
<path d="M64.2 628.8 L72.4 676.5" stroke="#f2f2f4" stroke-width="1.4"/>
</g><circle class="ring" cx="85.6" cy="644.4" r="79.5"/></g>
<!--C7 nonslip-->
<g id="c7"><g clip-path="url(#k7)">
<rect x="1030" y="447" width="166" height="166" fill="url(#tri)"/>
<polygon points="1055.0,490.5 1060.5,475.8 1077.0,464.8 1102.7,453.8 1113.7,448.3 1201.6,448.3 1201.6,507.0 1165.0,516.2 1128.3,523.5 1102.7,525.3 1077.0,516.2 1060.5,505.2" fill="#19191b"/>
<polygon points="1069.7,474.0 1086.2,464.8 1110.0,457.5 1132.0,466.7 1146.7,477.7 1128.3,485.0 1095.3,483.2 1073.3,479.5" fill="#4e5258"/>
<polygon points="1117.3,448.3 1201.6,448.3 1201.6,485.0 1165.0,486.8 1146.7,476.7 1128.3,464.8" fill="#2a2a2e"/>
<path d="M1086.2 516.2 Q1128.3 521.7 1183.3 493.2" stroke="#d9c9c0" stroke-width="2.2" fill="none"/>
<path d="M1126.5 462.1 L1141.2 457.5 M1128.3 468.5 L1146.7 462.1" stroke="#b8b0a8" stroke-width="2"/>
<ellipse cx="1140.2" cy="461.2" rx="4" ry="5" fill="#c9c2b8"/>
<polygon points="1060.5,505.2 1077.0,516.2 1102.7,525.3 1128.3,523.5 1165.0,516.2 1183.3,508.8 1183.3,516.2 1161.3,525.3 1128.3,532.7 1099.0,532.7 1073.3,521.7" fill="#c94a18" opacity="0.55"/>
</g><circle class="ring" cx="1112.5" cy="529.5" r="80"/></g>
<!--C8 power-->
<g id="c8"><g clip-path="url(#k8)">
<rect x="1018" y="838" width="166" height="166" fill="#1d1d1f"/>
<polygon points="1016.5,836.5 1078.8,836.5 1078.8,844.7 1029.3,887.8 1016.5,893.3" fill="#ececee"/>
<polygon points="1078.8,836.5 1201.6,836.5 1201.6,886.0 1078.8,844.7" fill="#f0652a"/>
<polygon points="1078.8,844.7 1201.6,886.0 1201.6,889.7 1078.8,847.5" fill="#c94c18"/>
<polygon points="1016.5,897.0 1023.8,901.9 1091.7,934.0 1161.3,967.0 1201.6,985.9 1201.6,1021.6 1016.5,1021.6" fill="url(#c8fl)"/>
<polygon points="1078.8,847.5 1201.6,889.7 1201.6,908.0 1078.8,862.2 1036.7,893.3 1029.3,889.7" fill="#28282a"/>
<ellipse cx="1044.0" cy="892.4" rx="13" ry="16" fill="#3c3c3e"/>
<ellipse cx="1044.0" cy="900.7" rx="12" ry="5" fill="#58585a"/>
<circle cx="1043.4" cy="884.2" r="2" fill="#caa46a"/><circle cx="1044.5" cy="890.6" r="2" fill="#caa46a"/>
<ellipse cx="1070.6" cy="902.5" rx="7" ry="8.5" fill="#0d0d0e"/>
<ellipse cx="1070.6" cy="901.6" rx="4.5" ry="5.5" fill="#2c2c2e"/>
<polygon points="1094.4,901.6 1117.3,908.9 1117.3,939.2 1094.4,931.8" fill="#7c7c7e"/><polygon points="1099.5,909.2 1102.2,910.1 1102.2,919.2 1099.5,918.3" fill="#2a2a2c"/><polygon points="1109.5,912.5 1112.3,913.3 1112.3,922.4 1109.5,921.5" fill="#2a2a2c"/><ellipse cx="1105.9" cy="928.8" rx="2.6" ry="2.2" fill="#2a2a2c"/>
<polygon points="1121.0,913.5 1146.7,922.7 1146.7,952.0 1121.0,942.8" fill="#7c7c7e"/><polygon points="1126.6,921.4 1129.7,922.5 1129.7,931.3 1126.6,930.2" fill="#2a2a2c"/><polygon points="1137.9,925.4 1141.0,926.5 1141.0,935.3 1137.9,934.2" fill="#2a2a2c"/><ellipse cx="1133.8" cy="941.0" rx="2.6" ry="2.2" fill="#2a2a2c"/>
<polygon points="1150.3,928.2 1176.0,938.2 1176.0,965.7 1150.3,955.7" fill="#7c7c7e"/><polygon points="1156.0,935.9 1159.0,937.1 1159.0,945.3 1156.0,944.1" fill="#2a2a2c"/><polygon points="1167.3,940.3 1170.3,941.5 1170.3,949.8 1167.3,948.6" fill="#2a2a2c"/><ellipse cx="1163.2" cy="954.6" rx="2.6" ry="2.2" fill="#2a2a2c"/>
</g><circle class="ring" cx="1100.8" cy="920" r="79.5"/></g>
<!--C9 carry-->
<g id="c9"><g clip-path="url(#k9)">
<rect x="623" y="797" width="166" height="166" fill="url(#c9bg)"/>
<polygon points="618.3,794.7 724.7,794.7 717.3,803.8 655.0,833.2 633.0,844.2 618.3,857.0" fill="#f0652a"/>
<polygon points="618.3,857.0 633.0,842.3 717.3,802.9 728.3,807.5 757.7,825.8 761.3,835.0 728.3,857.0 645.8,906.5 618.3,919.3" fill="#1f1f21"/>
<polygon points="634.8,844.2 717.3,804.8 726.5,809.3 644.0,853.3" fill="#353537"/>
<polygon points="645.8,860.7 728.3,816.7 728.3,840.5 645.8,897.3" fill="#2b2b2d"/>
<polygon points="676.1,882.7 728.3,857.0 731.1,882.7 680.7,908.3" fill="#a8a8ac"/>
<path d="M660.5 882.7 L663.3 901.0 Q666.0 926.7 695.3 924.8 L746.7 882.7 Q755.8 871.7 752.2 835.0" fill="none" stroke="#19191b" stroke-width="15" stroke-linecap="round" stroke-linejoin="round"/>
<path d="M695.3 920.3 L739.3 882.7" stroke="#3a3a3c" stroke-width="4" stroke-linecap="round"/>
<polygon points="649.5,875.3 671.5,875.3 673.3,890.0 669.7,908.3 653.2,906.5 647.7,890.0" fill="#19191b"/>
<polygon points="650.4,906.5 670.6,908.3 670.6,926.7 655.0,924.8" fill="#222224"/>
<path d="M655.0 908.3 L658.3 924.8 M660.5 908.3 L663.3 925.8 M665.6 908.3 L667.8 926.3" stroke="#0c0c0d" stroke-width="1.6"/>
<polygon points="728.3,816.7 739.3,824.0 752.2,825.8 755.8,835.0 739.3,840.5 728.3,840.5" fill="#1b1b1d"/>
<circle cx="657.4" cy="867.6" r="2.5" fill="#8a8a8c"/><circle cx="721.9" cy="831.3" r="2.5" fill="#8a8a8c"/><circle cx="735.7" cy="844.2" r="2.5" fill="#8a8a8c"/><circle cx="655.0" cy="895.5" r="2" fill="#c8a25e"/>
</g><circle class="ring" cx="705" cy="878.5" r="79.5"/></g>
<!--C10 drill-->
<g id="c10"><g clip-path="url(#k10)">
<rect x="358" y="853" width="166" height="166" fill="#f1672a"/>
<polygon points="357.5,932.7 375.8,940.0 385.0,969.3 390.5,982.2 357.5,995.0" fill="#f98a4e" opacity="0.7"/>
<ellipse cx="431.8" cy="976.7" rx="50" ry="16" fill="#d8541c"/>
<ellipse cx="430.8" cy="983.1" rx="40" ry="10" fill="#8e6048"/>
<ellipse cx="430.8" cy="984.4" rx="34" ry="7" fill="#a67c64"/>
<polygon points="428.6,958.3 438.5,958.3 438.2,976.7 433.6,983.6 429.0,976.7" fill="#7a2a22"/>
<polygon points="403.3,991.3 522.5,991.3 522.5,1013.3 403.3,1013.3" fill="#f67a3e" opacity="0.5"/>
<polygon points="380.4,900.6 432.7,890.5 513.3,908.8 504.2,982.2 374.9,940.9" fill="url(#c10w)"/>
<polygon points="380.4,900.6 432.7,890.5 513.3,908.8 441.8,916.2" fill="#f4dfba"/>
<path d="M375.8 925.3 Q440.0 932.7 509.7 943.7 M375.8 934.5 Q440.0 947.3 507.8 962.0 M421.7 947.3 Q458.3 956.5 506.0 973.0" stroke="#d3aa74" stroke-width="1.2" fill="none"/>
<ellipse cx="447.3" cy="904.3" rx="24" ry="7" fill="#c9a060"/>
<g fill="#b88a48"><circle cx="429.0" cy="902.4" r="1.6"/><circle cx="435.4" cy="906.1" r="1.6"/><circle cx="458.3" cy="907.0" r="1.6"/><circle cx="465.7" cy="903.3" r="1.6"/><circle cx="471.2" cy="908.8" r="1.4"/><circle cx="425.3" cy="898.8" r="1.4"/><circle cx="454.7" cy="900.6" r="1.4"/></g>
<polygon points="442.2,860.3 454.3,860.3 453.2,904.3 440.4,904.3" fill="#1d1b1c"/>
<path d="M442.8 872.2 L453.8 883.2 M441.5 888.7 L453.2 900.6" stroke="#4a4648" stroke-width="2.4"/>
</g><circle class="ring" cx="440" cy="934.5" r="79.5"/></g>
<!--C11 durable-->
<g id="c11"><g clip-path="url(#k11)">
<rect x="86" y="974" width="166" height="166" fill="url(#c11st)"/>
<polygon points="84.3,1048.3 92.0,1039.0 175.2,1131.5 167.5,1140.8 84.3,1140.8" fill="#66686e"/>
<polygon points="84.3,1072.9 92.0,1063.7 158.3,1140.8 84.3,1140.8" fill="#7c7e84"/>
<polygon points="84.3,1103.8 90.4,1097.6 127.4,1140.8 84.3,1140.8" fill="#5c5e64"/>
<polygon points="92.0,1038.4 94.4,1036.8 177.4,1129.4 174.6,1131.8" fill="#ef5f28"/>
<polygon points="192.2,1079.1 230.7,1057.5 244.6,1072.9 244.6,1097.6 213.8,1082.2" fill="#77777a" opacity="0.7"/>
<polygon points="198.3,1022.0 229.2,1005.9 249.2,1029.8 249.2,1082.2 238.4,1076.0 229.2,1056.0" fill="#e6a63a"/>
<polygon points="198.3,1022.0 229.2,1005.9 231.5,1008.9 200.7,1025.4" fill="#c98a2a"/>
<path d="M206.1 1022.4 l9 16 M210.7 1019.9 l9 16 M215.3 1017.4 l9 16 M219.9 1015.0 l9 16 M224.6 1012.5 l9 16 M229.2 1010.6 l14 26" stroke="#6a4a18" stroke-width="1"/>
<path d="M232.3 1063.7 l40 -20 M235.3 1071.4 l40 -20" stroke="#6a4a18" stroke-width="1.2"/>
<polygon points="159.0,1045.2 152.9,1023.6 158.3,988.1 198.3,988.1 198.3,1022.0 229.2,1056.0 193.7,1077.6" fill="#55543f"/>
<polygon points="167.5,1037.5 186.0,1029.8 223.0,1056.0 196.8,1071.4" fill="#7d7b60" opacity="0.8"/>
<polygon points="161.3,1015.9 198.3,1022.8 207.6,1032.8 167.5,1035.9" fill="#3f3e30" opacity="0.8"/>
<polygon points="159.0,1045.2 193.7,1077.6 191.6,1079.4 157.5,1047.5" fill="#d2d2cc"/>
<path d="M192.2 1051.3 l5 -2.4 M198.3 1057.5 l6.5 -3 M204.5 1063.7 l5 -2.4 M209.1 1045.2 l4.5 -2.1" stroke="#c9c7a8" stroke-width="1.4"/>
<polygon points="155.2,977.3 173.7,977.3 175.2,1003.5 170.6,1011.3 159.8,1009.7 155.9,1000.5" fill="#a8625a"/>
<polygon points="176.0,977.3 196.8,978.9 198.3,1015.9 193.7,1024.4 182.9,1023.6 177.5,1014.3" fill="#b26a60"/>
<polygon points="201.4,988.1 218.4,992.8 220.7,1008.2 213.8,1015.1 204.5,1011.3" fill="#a8625a"/>
<polygon points="161.3,996.6 170.6,996.6 171.8,1008.9 162.9,1009.7" fill="#d4a097"/>
<polygon points="182.9,1005.9 194.5,1006.6 195.0,1021.3 184.8,1021.3" fill="#dcae9e"/>
<polygon points="206.8,998.1 216.1,999.7 215.6,1011.3 207.6,1009.7" fill="#d4a097"/>
<polygon points="112.8,1012.0 122.8,1008.2 156.7,1042.9 147.5,1050.1" fill="#bf8750"/>
<polygon points="112.8,1012.0 122.8,1008.2 125.1,1010.6 115.4,1014.6" fill="#d8a878"/>
<polygon points="132.0,988.1 142.8,983.5 155.2,1023.6 159.5,1045.2 151.3,1026.7 125.9,1004.3" fill="#8b959f"/>
<polygon points="121.3,998.1 125.9,1004.3 151.3,1026.7 159.5,1045.2 147.5,1024.4 125.9,1009.7" fill="#eeeeef"/>
<polygon points="116.6,994.3 125.9,991.2 128.2,1003.5 121.3,999.7" fill="#2e2a2a"/>
<polygon points="102.8,1012.8 112.8,1011.3 115.4,1015.9 105.8,1019.0" fill="#c89a8a"/>
<polygon points="149.0,1051.3 158.3,1046.7 192.2,1079.9 182.9,1085.3" fill="#dededf" opacity="0.55"/>
<circle cx="189.1" cy="1124.6" r="4" fill="#9aa6b4"/><circle cx="189.1" cy="1124.6" r="1.6" fill="#5a6674"/>
</g><circle class="ring" cx="167.7" cy="1056" r="79"/></g>
</g>
<!--CIRCLES-->

<g id="labels">
<text class="lbl" x="163.0" y="50.4" textLength="162.8" lengthAdjust="spacingAndGlyphs">BUILT-IN PROTRACTOR</text>
<text class="lbl" x="419.3" y="163.2" textLength="167.3" lengthAdjust="spacingAndGlyphs">REVERSIBLE TOP PANEL</text>
<text class="lbl" x="678.6" y="85.0" textLength="128.0" lengthAdjust="spacingAndGlyphs">CUTTING GROOVE</text>
<text class="lbl" x="1003.3" y="140.5" textLength="81.2" lengthAdjust="spacingAndGlyphs">ACCESSORY</text>
<text class="lbl" x="991.0" y="160.6" textLength="106.4" lengthAdjust="spacingAndGlyphs">STORAGE TRAY</text>
<text class="lbl" x="12.0" y="469.2" textLength="180.2" lengthAdjust="spacingAndGlyphs">STEEL HAMMER SURFACE</text>
<text class="lbl" x="20.2" y="752.8" textLength="131.7" lengthAdjust="spacingAndGlyphs">ROPE CONNECTOR</text>
<text class="lbl" x="1044.5" y="635.5" textLength="138.5" lengthAdjust="spacingAndGlyphs">NON-SLIP SURFACE</text>
<text class="lbl" x="1033.0" y="1026.4" textLength="135.3" lengthAdjust="spacingAndGlyphs">110V POWER STRIP</text>
<text class="lbl" x="649.5" y="986.5" textLength="110.6" lengthAdjust="spacingAndGlyphs">CARRY HANDLE</text>
<text class="lbl" x="398.8" y="1042.5" textLength="83.1" lengthAdjust="spacingAndGlyphs">DRILL HOLE</text>
<text class="lbl" x="68.3" y="1162.9" textLength="201.3" lengthAdjust="spacingAndGlyphs">DURABLE CUTTING SURFACE</text>
</g>
<!--TEXT-->
</svg>
</body>
</html>
